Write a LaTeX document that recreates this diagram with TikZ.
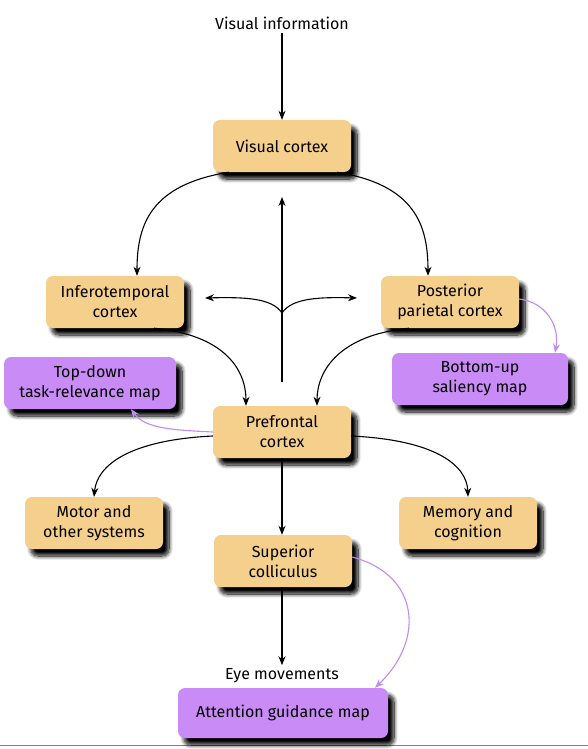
\documentclass[tikz,border=0pt]{standalone}
\usepackage{fontspec}
\setmainfont{Fira Sans}
\usetikzlibrary{positioning}
\usetikzlibrary{arrows.meta}
\usetikzlibrary{shadows.blur}

\definecolor{sand}{HTML}{F5CF8C}
\definecolor{lilac}{HTML}{C98BF6}
\definecolor{lilacline}{HTML}{C08CF2}

\begin{document}
\begin{tikzpicture}[x=1pt, y=-1pt,
    area/.style={fill=sand, rounded corners=7pt, minimum width=138pt,
        minimum height=52pt, align=center, font=\fontsize{16}{20}\selectfont,
        blur shadow={shadow xshift=6pt, shadow yshift=-7pt,
            shadow blur radius=4pt, shadow blur steps=10,
            shadow opacity=100}},
    map/.style={area, fill=lilac},
    link/.style={-{Stealth[length=9pt,width=7pt]}, line width=1.1pt},
    feed/.style={-{Stealth[length=9pt,width=7pt]}, line width=1.1pt, lilacline}]
    \useasboundingbox (0,0) rectangle (588,749);
    \draw [gray] (0,745) -- (588,745);

    \path (282, 23) node [font=\fontsize{16}{20}\selectfont] (vi) {Visual information};
    \path (282,146) node [area] (vc) {Visual cortex};
    \path (115,302) node [area] (it) {Inferotemporal\\cortex};
    \path (450,302) node [area] (pp) {Posterior\\parietal cortex};
    \path (90,383) node [map, minimum width=172pt] (td) {Top-down\\task-relevance map};
    \path (480,379) node [map, minimum width=176pt] (bu) {Bottom-up\\saliency map};
    \path (282,432) node [area] (pf) {Prefrontal\\cortex};
    \path (94,523) node [area] (mo) {Motor and\\other systems};
    \path (468,523) node [area] (me) {Memory and\\cognition};
    \path (283,561) node [area] (sc) {Superior\\colliculus};
    \path (282,676) node [font=\fontsize{16}{20}\selectfont] (em) {Eye movements};
    \path (283,713) node [map, minimum width=210pt, minimum height=50pt] (ag) {Attention guidance map};

    \draw [link] (vi) -- (vc);
    \draw [link] ([xshift=16pt]vc.south west) .. controls (150,185) and (137,225) .. ([xshift=22pt]it.north);
    \draw [link] ([xshift=-14pt]vc.south east) .. controls (415,185) and (428,225) .. ([xshift=-22pt]pp.north);

    % pathways from prefrontal back up
    \coordinate (up0) at (282,382);
    \coordinate (up1) at (282,197);
    \coordinate (fork) at (282,313);
    \coordinate (forkl) at (205,298);
    \coordinate (forkr) at (357,298);
    \draw [link] (up0) -- (up1);
    \draw [link] (fork) .. controls (272,298) and (245,297) .. (forkl);
    \draw [link] (fork) .. controls (292,298) and (319,297) .. (forkr);

    \draw [link] ([xshift=39pt]it.south) .. controls (225,335) and (246,370) .. ([xshift=-36pt]pf.north);
    \draw [link] ([xshift=-41pt]pp.south) .. controls (340,335) and (317,370) .. ([xshift=35pt]pf.north);
    \draw [feed] ([yshift=3pt]pp.east) .. controls (545,302) and (560,325) .. ([xshift=75pt]bu.north);
    \draw [feed] (pf.west) .. controls (170,430) and (145,428) .. ([xshift=41pt]td.south);

    \draw [link] ([yshift=-4pt]pf.west) .. controls (130,440) and (97,465) .. (mo.north);
    \draw [link] ([yshift=-4pt]pf.east) .. controls (435,440) and (467,465) .. (me.north);
    \draw [link] (pf.south) -- (pf.south |- sc.north);
    \draw [link] (pf.south |- sc.south) -- (em);
    \draw [feed] ([yshift=4pt]sc.east) .. controls (420,575) and (425,640) .. ([xshift=92pt]ag.north);
\end{tikzpicture}
\end{document}
